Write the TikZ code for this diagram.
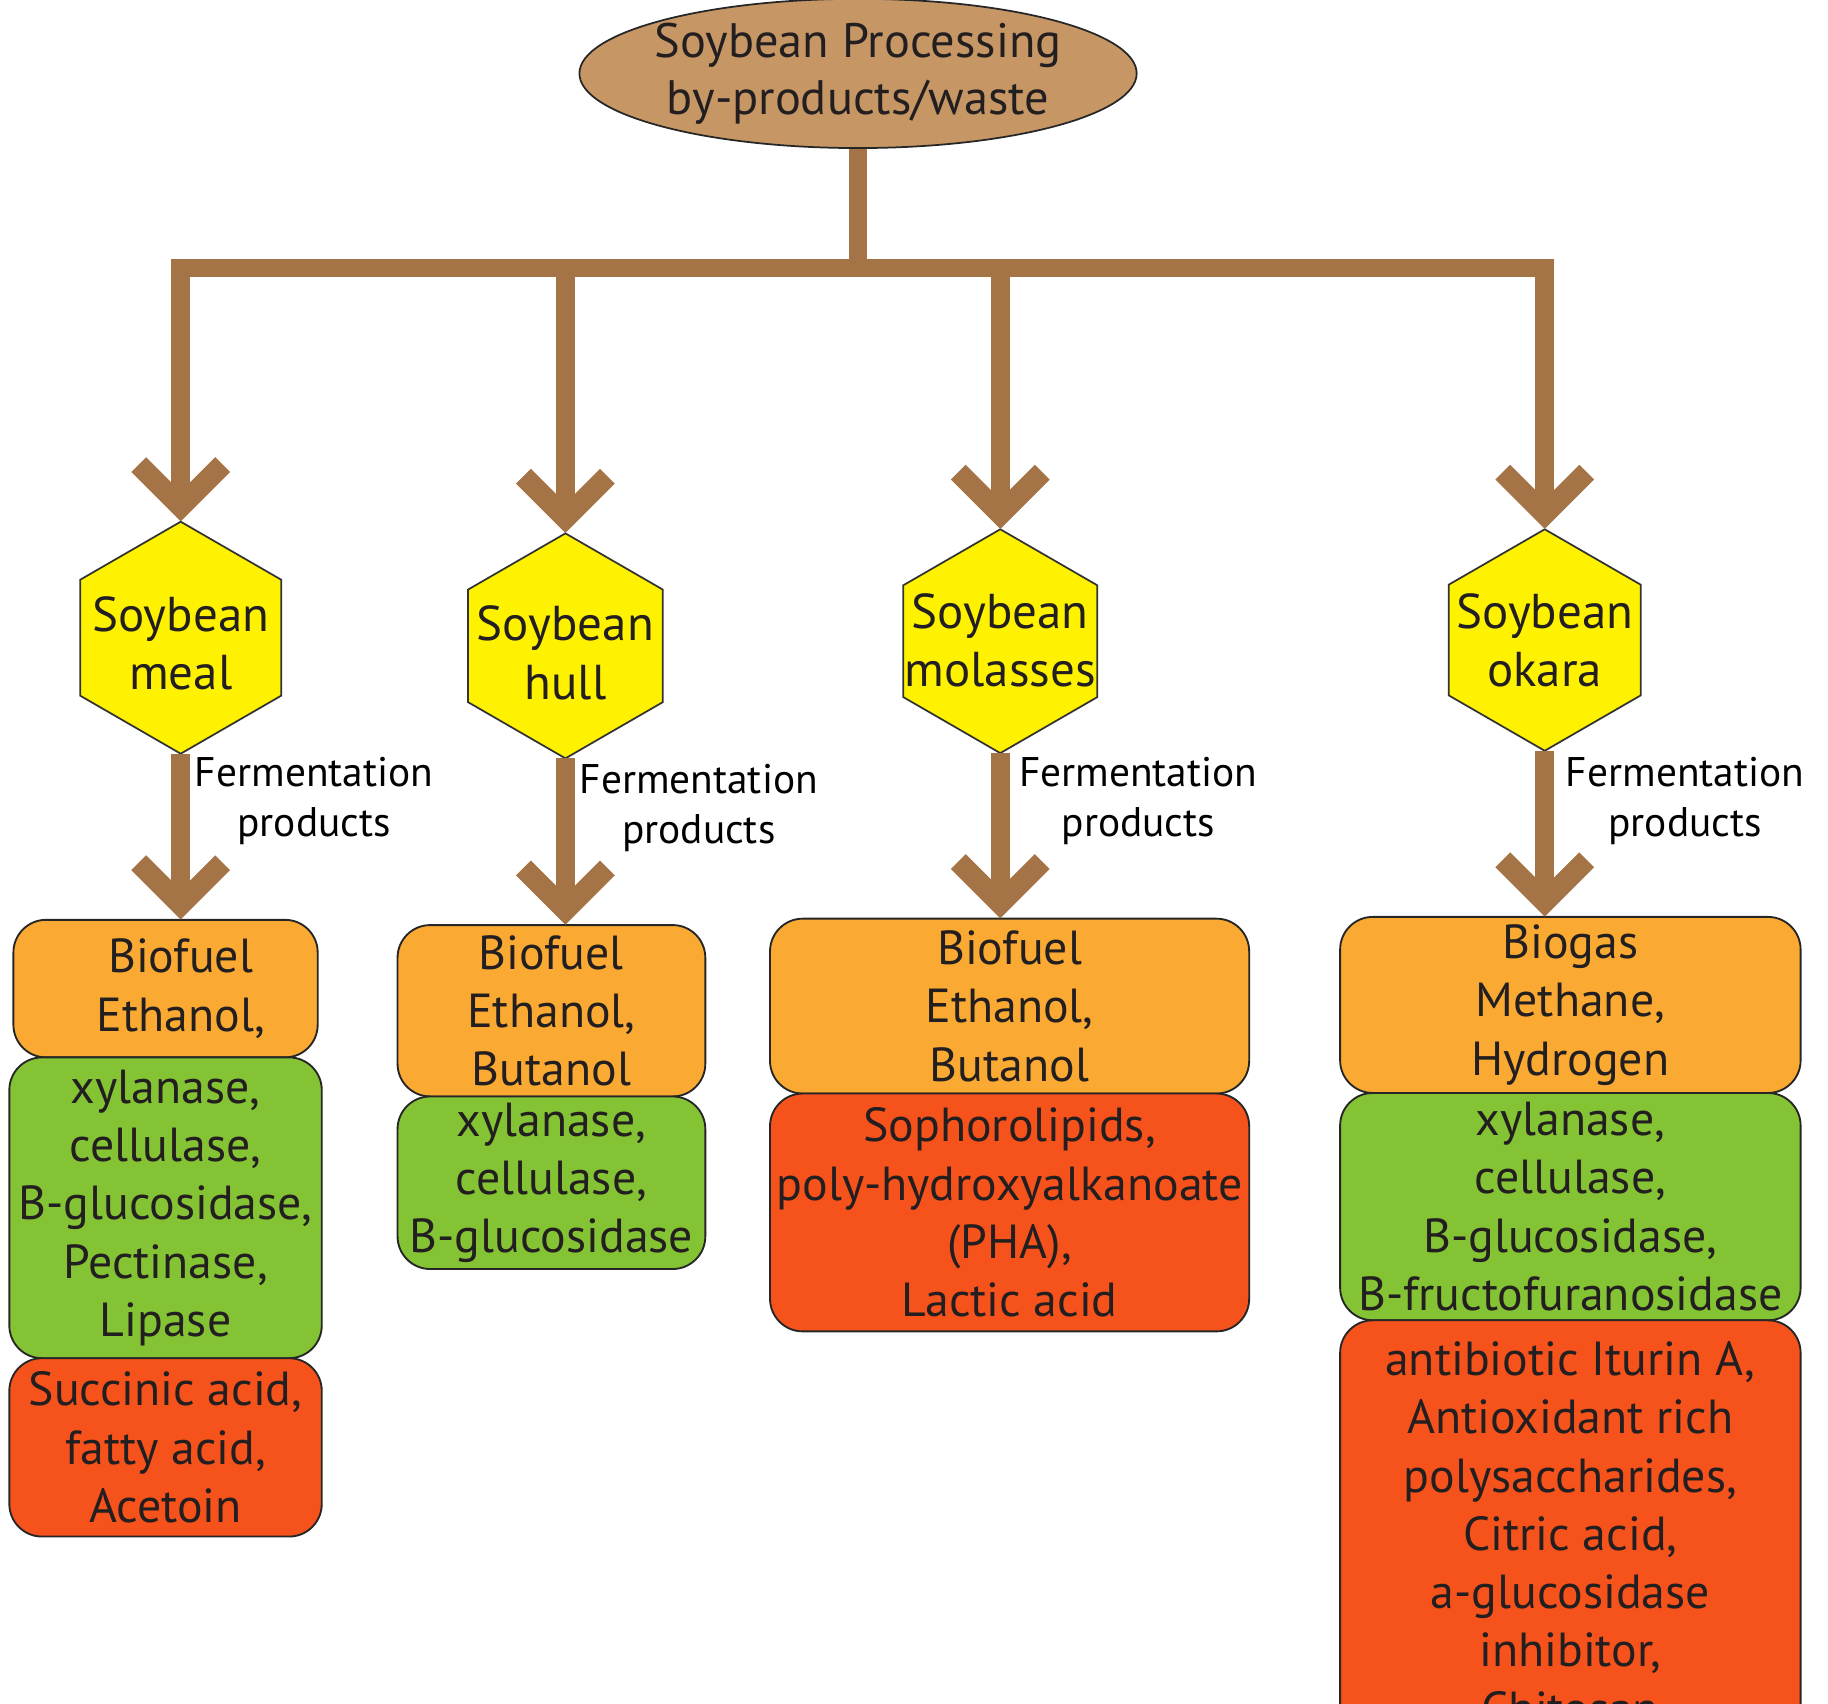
\documentclass[tikz,border=0pt]{standalone}
\usepackage{fontspec}
\setmainfont{PT Sans}
\usetikzlibrary{shapes.geometric, positioning}

\definecolor{stem}{RGB}{165,116,70}
\definecolor{tan}{RGB}{198,151,101}
\definecolor{fuel}{RGB}{250,170,50}
\definecolor{enzyme}{RGB}{132,196,52}
\definecolor{acid}{RGB}{246,82,28}
\definecolor{hexfill}{RGB}{255,242,0}
\definecolor{ink}{RGB}{35,31,32}

\newcommand\boxfont{\fontsize{41}{50}\selectfont}
\newcommand\hexfont{\fontsize{42}{50}\selectfont}
\newcommand\lblfont{\fontsize{35.5}{43}\selectfont}
\newcommand\chevron[1]{\draw[stem, line width=18] ([shift={(-36,-49)}]#1) -- ([shift={(0,-13)}]#1) -- ([shift={(36,-49)}]#1);}

\begin{document}
\begin{tikzpicture} [x=1pt, y=-1pt,
  flow/.style={draw=stem, line width=16},
  srcnode/.style={ellipse, draw=black!85, fill=tan, line width=1.5, minimum width=478, minimum height=128, inner sep=0},
  hexa/.style={regular polygon, regular polygon sides=6, shape border rotate=30, draw=black!80, fill=hexfill, line width=1.5, inner sep=0, outer sep=0},
  hextext/.style={align=center, font=\hexfont, text=ink},
  box/.style={draw=black!85, line width=1.6, rounded corners=28, align=center, font=\boxfont, text=ink, inner sep=2, outer sep=0},
  lbl/.style={align=center, font=\lblfont, text=black, inner sep=0}]
\useasboundingbox (0,0) rectangle (1568,1461);
\clip (0,0) rectangle (1568,1461);

\node (src) [srcnode, label={[hextext, font=\fontsize{41.5}{49}\selectfont]center:Soybean Processing\\by-products/waste}] at (736,63) {};

\node (meal) [hexa, minimum size=199, label={[hextext, yshift=-5]center:Soybean\\meal}] at (155,547) {};
\node (hull) [hexa, minimum size=193, label={[hextext, yshift=-6]center:Soybean\\hull}] at (485,554) {};
\node (mol) [hexa, minimum size=192, label={[hextext, yshift=1]center:Soybean\\molasses}] at (858,550) {};
\node (okara) [hexa, minimum size=190, label={[hextext]center:Soybean\\okara}] at (1325,549) {};

% products of each by-product
\node (mf) [box, fill=fuel, minimum width=261, minimum height=118, label={[align=center, font=\boxfont, text=ink, xshift=13]center:Biofuel\\Ethanol,}] at (142,848) {};
\node (me) [box, fill=enzyme, minimum width=268, minimum height=258, below=0pt of mf] {xylanase,\\cellulase,\\B-glucosidase,\\Pectinase,\\Lipase};
\node (ma) [box, fill=acid, minimum width=268, minimum height=153, below=0pt of me] {Succinic acid,\\fatty acid,\\Acetoin};

\node (hf) [box, fill=fuel, minimum width=264, minimum height=147] at (473,867) {Biofuel\\Ethanol,\\Butanol};
\node (he) [box, fill=enzyme, minimum width=264, minimum height=148, below=0pt of hf] {xylanase,\\cellulase,\\B-glucosidase};

\node (lf) [box, fill=fuel, minimum width=411, minimum height=150] at (866,863) {Biofuel\\Ethanol,\\Butanol};
\node (la) [box, fill=acid, minimum width=411, minimum height=204, below=0pt of lf] {Sophorolipids,\\poly-hydroxyalkanoate\\(PHA),\\Lactic acid};

\node (of) [box, fill=fuel, minimum width=395, minimum height=151] at (1347,862) {Biogas\\Methane,\\Hydrogen};
\node (oe) [box, fill=enzyme, minimum width=395, minimum height=195, below=0pt of of] {xylanase,\\cellulase,\\B-glucosidase,\\B-fructofuranosidase};
\node (oa) [box, fill=acid, minimum width=395, minimum height=366, below=0pt of oe] {antibiotic Iturin A,\\Antioxidant rich\\polysaccharides,\\Citric acid,\\a-glucosidase\\inhibitor,\\Chitosan};

% tree from the source
\coordinate (bar) at (736,230);
\draw [flow] (src.south) -- (bar);
\draw [flow, shorten >=12] (bar) -| (meal.north);
\draw [flow, shorten >=12] (bar) -| (hull.north);
\draw [flow, shorten >=12] (bar) -| (mol.north);
\draw [flow, shorten >=12] (bar) -| (okara.north);
\chevron{meal.north} \chevron{hull.north} \chevron{mol.north} \chevron{okara.north}

% fermentation arrows
\coordinate (m2) at (meal.south |- mf.north);
\coordinate (h2) at (hull.south |- hf.north);
\coordinate (l2) at (mol.south |- lf.north);
\coordinate (o2) at (okara.south |- of.north);
\draw [flow, shorten >=12] (meal.south) -- (m2);
\draw [flow, shorten >=12] (hull.south) -- (h2);
\draw [flow, shorten >=12] (mol.south) -- (l2);
\draw [flow, shorten >=12] (okara.south) -- (o2);
\chevron{m2} \chevron{h2} \chevron{l2} \chevron{o2}

\node (fm) [lbl, anchor=north west] at ([xshift=12, yshift=-3]meal.south) {Fermentation\\products};
\node (fh) [lbl, anchor=north west] at ([xshift=12, yshift=-5]hull.south) {Fermentation\\products};
\node (fl) [lbl, anchor=north west] at ([xshift=16, yshift=-3]mol.south) {Fermentation\\products};
\node (fo) [lbl, anchor=north west] at ([xshift=18, yshift=-5]okara.south) {Fermentation\\products};
\end{tikzpicture}
\end{document}
